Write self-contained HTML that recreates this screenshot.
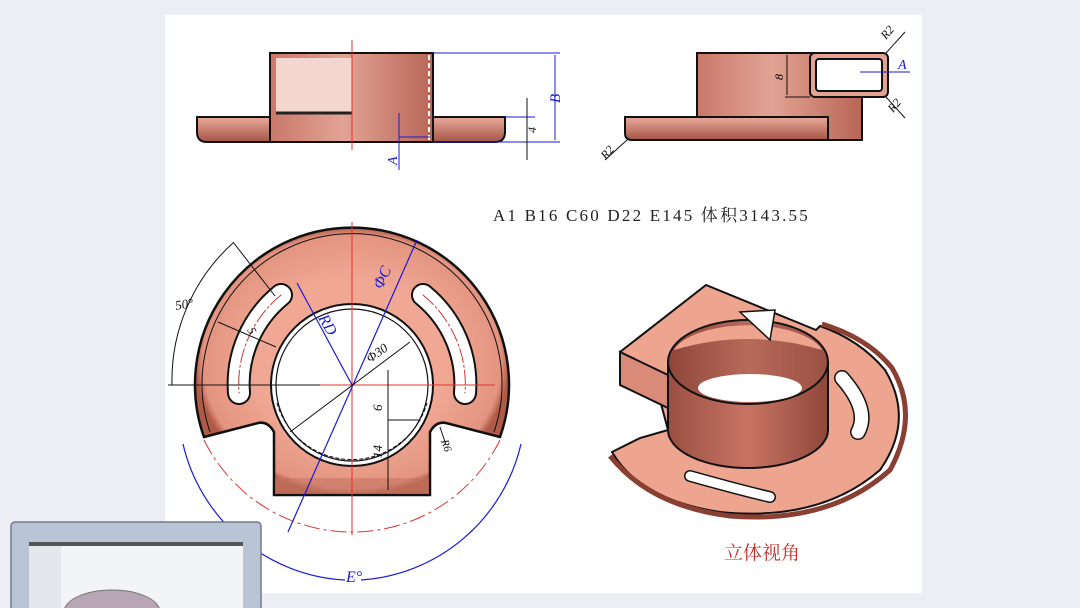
<!DOCTYPE html>
<html><head><meta charset="utf-8"><style>
html,body{margin:0;padding:0;background:#eceef3;}
svg{display:block}
</style></head><body>
<svg width="1080" height="608" viewBox="0 0 1080 608" xmlns="http://www.w3.org/2000/svg">
<defs>
<linearGradient id="cyl" x1="0" x2="1" y1="0" y2="0">
<stop offset="0" stop-color="#c9786a"/><stop offset="0.45" stop-color="#e2a394"/><stop offset="1" stop-color="#b86556"/></linearGradient>
<linearGradient id="flat" x1="0" x2="0" y1="0" y2="1">
<stop offset="0" stop-color="#e9aa9b"/><stop offset="1" stop-color="#a45546"/></linearGradient>
<radialGradient id="disk" cx="0.5" cy="0.5" r="0.5">
<stop offset="0.6" stop-color="#f0a894"/><stop offset="0.95" stop-color="#e39480"/><stop offset="1" stop-color="#b05a48"/></radialGradient>
<linearGradient id="iso" x1="0" x2="1"><stop offset="0" stop-color="#9a4f42"/><stop offset="0.5" stop-color="#c87464"/><stop offset="1" stop-color="#8f473a"/></linearGradient>
<linearGradient id="inw" x1="0" x2="1"><stop offset="0" stop-color="#8e463a"/><stop offset="0.5" stop-color="#b86a5a"/><stop offset="1" stop-color="#9a5043"/></linearGradient>
</defs>
<rect x="165" y="15" width="757" height="578" fill="#fff"/>

<!-- FRONT VIEW -->
<g stroke="#111" stroke-width="2">
<path d="M197 117 H505 V132 Q505 142 495 142 H207 Q197 142 197 132 Z" fill="url(#flat)"/>
<rect x="270" y="53" width="163" height="89" fill="url(#cyl)"/>
</g>
<rect x="276" y="58" width="76" height="54" fill="#f3d6cd"/>
<line x1="276" y1="113" x2="352" y2="113" stroke="#222" stroke-width="3"/>
<line x1="429" y1="55" x2="429" y2="140" stroke="#fff" stroke-width="2" stroke-dasharray="5 3"/>
<line x1="352" y1="40" x2="352" y2="150" stroke="#d33" stroke-width="1"/>
<g stroke="#1a1ad8" stroke-width="1" fill="none">
<line x1="433" y1="53" x2="560" y2="53"/><line x1="433" y1="142" x2="560" y2="142"/>
<line x1="555" y1="55" x2="555" y2="140"/>
<line x1="505" y1="117" x2="535" y2="117"/>
<line x1="399" y1="113" x2="399" y2="170"/><line x1="399" y1="137" x2="430" y2="137"/>
</g>
<g stroke="#111" stroke-width="1"><line x1="527" y1="98" x2="527" y2="160"/></g>
<text x="560" y="103" font-family="Liberation Serif,serif" font-style="italic" font-size="15" fill="#1a1ad8" transform="rotate(-90 560 103)">B</text>
<text x="536" y="133" font-family="Liberation Serif,serif" font-style="italic" font-size="12" fill="#111" transform="rotate(-90 536 133)">4</text>
<text x="397" y="165" font-family="Liberation Serif,serif" font-style="italic" font-size="14" fill="#1a1ad8" transform="rotate(-90 397 165)">A</text>

<!-- SIDE VIEW -->
<g stroke="#111" stroke-width="2">
<rect x="697" y="53" width="165" height="87" fill="url(#cyl)"/>
<path d="M625 117 H828 V140 H632 Q625 140 625 133 Z" fill="url(#flat)"/>
<rect x="810" y="53" width="78" height="44" rx="5" fill="#e2a394"/>
<rect x="816" y="59" width="66" height="32" rx="3" fill="#fff"/>
</g>
<line x1="787" y1="55" x2="787" y2="95" stroke="#111"/>
<line x1="785" y1="97" x2="810" y2="97" stroke="#111"/>
<text x="783" y="80" font-family="Liberation Serif,serif" font-style="italic" font-size="12" transform="rotate(-90 783 80)">8</text>
<line x1="860" y1="72" x2="910" y2="72" stroke="#1a1ad8"/>
<text x="898" y="69" font-family="Liberation Serif,serif" font-style="italic" font-size="14" fill="#1a1ad8">A</text>
<g stroke="#111"><line x1="886" y1="53" x2="905" y2="32"/><line x1="886" y1="97" x2="905" y2="118"/><line x1="627" y1="140" x2="605" y2="160"/></g>
<g font-family="Liberation Serif,serif" font-style="italic" font-size="12" fill="#111">
<text x="886" y="40" transform="rotate(-50 886 40)">R2</text>
<text x="893" y="113" transform="rotate(-50 893 113)">R2</text>
<text x="606" y="160" transform="rotate(-50 606 160)">R2</text>
</g>

<text x="493" y="221" font-family="Liberation Serif,'Noto Serif CJK SC',serif" font-size="17" letter-spacing="2.2" fill="#222">A1 B16 C60 D22 E145 体积3143.55</text>

<!-- TOP VIEW -->
<path d="M204 437 L258 423 Q268 421 274 432 V495 H430 V432 Q436 421 446 423 L500 437 A157 157 0 1 0 204 437 Z" fill="url(#disk)" stroke="#111" stroke-width="2.5"/>
<path d="M210 432 A150 150 0 1 1 494 432" fill="none" stroke="#111" stroke-width="1"/>
<rect x="275" y="478" width="154" height="16" fill="#c77463" opacity="0.6"/>
<circle cx="352" cy="385" r="81" fill="#fff" stroke="#111" stroke-width="2"/>
<circle cx="352" cy="385" r="76" fill="none" stroke="#111" stroke-width="1.2"/>
<path d="M277 403 A78 78 0 0 0 427 403" fill="none" stroke="#111" stroke-dasharray="4 2"/>
<g fill="none" stroke-linecap="round">
<path d="M281 295 A115 115 0 0 0 239 393" stroke="#111" stroke-width="24"/>
<path d="M281 295 A115 115 0 0 0 239 393" stroke="#fff" stroke-width="20"/>
<path d="M423 295 A115 115 0 0 1 465 393" stroke="#111" stroke-width="24"/>
<path d="M423 295 A115 115 0 0 1 465 393" stroke="#fff" stroke-width="20"/>
<path d="M281 295 A115 115 0 0 0 239 393" stroke="#c33" stroke-width="1" stroke-dasharray="14 3 2 3"/>
<path d="M423 295 A115 115 0 0 1 465 393" stroke="#c33" stroke-width="1" stroke-dasharray="14 3 2 3"/>
</g>
<g stroke="#d33" stroke-width="1" fill="none">
<line x1="352" y1="222" x2="352" y2="535"/><line x1="190" y1="385" x2="495" y2="385"/>
<path d="M204 440 A165 165 0 0 0 500 440" stroke-dasharray="16 4 3 4"/>
</g>
<g stroke="#1a1ad8" stroke-width="1.2" fill="none">
<line x1="417" y1="240" x2="288" y2="532"/>
<line x1="297" y1="283" x2="352" y2="385"/>
<path d="M183 444 A176 176 0 0 0 345 580"/><path d="M361 580 A176 176 0 0 0 521 444"/>
</g>
<g stroke="#111" stroke-width="1" fill="none">
<line x1="410" y1="342" x2="290" y2="432"/>
<line x1="168" y1="385" x2="320" y2="385"/>
<line x1="233" y1="242" x2="275" y2="296"/>
<path d="M233 243 A185 185 0 0 0 172 385"/>
<line x1="218" y1="322" x2="276" y2="347"/>
<line x1="388" y1="370" x2="388" y2="490"/>
<line x1="388" y1="420" x2="420" y2="420"/>
<line x1="440" y1="427" x2="446" y2="445"/>
</g>
<g font-family="Liberation Serif,serif" font-style="italic" fill="#111" font-size="13">
<text x="176" y="310" transform="rotate(-10 176 310)">50°</text>
<text x="370" y="363" transform="rotate(-35 370 363)">Φ30</text>
<text x="382" y="411" transform="rotate(-90 382 411)">6</text>
<text x="382" y="458" transform="rotate(-90 382 458)">14</text>
<text x="441" y="441" font-size="11" transform="rotate(70 441 441)">R6</text>
<text x="247" y="330" font-size="12" transform="rotate(60 247 330)">5</text>
</g>
<g font-family="Liberation Serif,serif" font-style="italic" fill="#1a1ad8" font-size="16">
<text x="382" y="290" transform="rotate(-65 382 290)">ΦC</text>
<text x="318" y="318" transform="rotate(60 318 318)">RD</text>
<text x="346" y="582">E°</text>
</g>

<!-- ISO VIEW -->
<path d="M612 452 Q640 500 720 512 Q820 522 880 470 Q915 420 885 370 Q860 340 820 326 L816 330 L706 285 L620 352 L660 400 L668 430 L640 438 Z" fill="#eea58f" stroke="#111" stroke-width="2"/>
<path d="M610 456 Q650 506 730 516 Q830 524 890 470 Q920 415 892 368 Q868 338 822 324" fill="none" stroke="#8a3f33" stroke-width="5"/>
<path d="M690 476 Q740 490 770 497" stroke="#111" stroke-width="12" stroke-linecap="round" fill="none"/>
<path d="M690 476 Q740 490 770 497" stroke="#fff" stroke-width="9" stroke-linecap="round" fill="none"/>
<path d="M842 378 Q870 410 858 432" stroke="#111" stroke-width="16" stroke-linecap="round" fill="none"/>
<path d="M842 378 Q870 410 858 432" stroke="#fff" stroke-width="13" stroke-linecap="round" fill="none"/>
<path d="M620 352 V385 L668 408 V375 Z" fill="#d98a78" stroke="#111" stroke-width="2"/>
<path d="M668 362 V430 A80 38 0 0 0 828 430 V362 Z" fill="url(#iso)" stroke="#111" stroke-width="2"/>
<ellipse cx="748" cy="362" rx="80" ry="42" fill="url(#inw)" stroke="#111" stroke-width="2"/>
<path d="M674 350 A76 32 0 0 1 822 350 Q748 328 674 350 Z" fill="#eea58f"/>
<ellipse cx="750" cy="388" rx="52" ry="14" fill="#fff"/>
<path d="M740 312 L775 310 L770 340 Z" fill="#fff" stroke="#111" stroke-width="1.5"/>
<text x="762" y="559" text-anchor="middle" font-family="'Noto Serif CJK SC',serif" font-size="19" fill="#c0302a">立体视角</text>

<!-- thumbnail window -->
<rect x="11" y="522" width="250" height="90" rx="4" fill="#b9c4d4" stroke="#6f7c90" stroke-width="1.5"/>
<rect x="29" y="542" width="214" height="70" fill="#f3f4f6"/>
<rect x="29" y="542" width="32" height="66" fill="#e4e7ec"/>
<rect x="29" y="542" width="214" height="4" fill="#555"/>
<ellipse cx="112" cy="612" rx="48" ry="22" fill="#b8a6b6" stroke="#777"/>
</svg>
</body></html>
